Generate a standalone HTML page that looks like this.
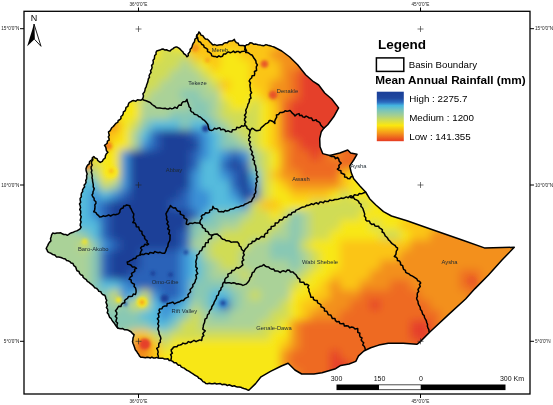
<!DOCTYPE html>
<html><head><meta charset="utf-8"><title>Mean Annual Rainfall</title>
<style>
html,body{margin:0;padding:0;background:#fff;}
body{width:553px;height:405px;overflow:hidden;font-family:"Liberation Sans",sans-serif;}
svg{display:block;}
text{font-family:"Liberation Sans",sans-serif;}
</style></head><body>
<svg width="553" height="405" viewBox="0 0 553 405">
<defs>
<clipPath id="cp"><polygon points="198.7,32.0 204.0,37.5 209.0,40.7 213.0,45.0 220.5,45.0 230.5,41.0 234.0,39.8 239.0,45.0 245.0,46.0 250.0,43.0 256.0,44.3 262.0,45.5 268.0,45.0 274.0,47.0 281.7,51.0 289.7,57.0 297.6,64.8 305.6,74.7 313.5,81.7 318.7,85.0 324.7,93.0 331.7,99.0 338.6,107.9 333.7,116.8 327.7,124.8 323.7,128.4 321.3,131.7 319.7,138.7 320.0,146.7 322.7,153.6 329.8,155.5 339.8,153.0 347.7,150.0 350.7,153.0 357.0,154.3 353.7,160.0 349.7,165.9 351.3,172.8 353.7,178.8 359.7,185.8 365.6,192.0 369.6,198.7 375.6,204.7 383.5,211.6 391.5,216.0 407.0,220.8 434.0,230.3 461.4,239.8 484.4,247.9 514.3,247.3 502.0,260.0 488.5,275.0 475.0,288.6 465.6,299.0 449.3,313.9 430.4,331.5 419.5,342.4 416.8,344.3 403.2,343.2 388.3,343.2 378.8,345.1 370.7,347.8 363.9,351.0 358.5,355.9 355.8,361.4 349.0,364.0 340.8,365.4 335.6,368.7 322.0,372.7 313.9,374.0 301.7,374.0 294.9,370.0 288.1,363.2 281.4,366.0 270.5,371.4 261.0,376.8 255.6,383.6 248.8,390.2 240.7,387.3 227.5,384.9 216.6,383.6 205.8,383.6 197.6,376.8 186.8,370.0 175.9,363.2 167.8,359.2 158.3,357.8 140.7,357.3 135.3,349.7 132.5,341.5 133.9,334.8 129.8,330.7 124.4,329.3 117.6,328.0 113.6,322.5 108.0,314.4 106.8,305.7 105.8,296.8 97.8,289.8 92.0,285.0 86.0,280.0 81.0,274.5 77.3,270.6 75.4,267.5 72.9,263.7 69.7,261.8 65.3,259.2 60.9,257.3 56.5,256.7 52.7,254.2 47.6,251.6 46.3,248.5 48.2,244.0 50.8,240.9 50.8,236.5 52.7,233.3 59.0,232.7 67.2,235.2 71.6,232.7 76.7,230.8 80.5,228.9 80.7,216.7 80.0,205.8 80.5,198.5 81.7,193.0 85.8,182.2 87.1,174.0 85.8,168.7 89.8,161.9 93.9,156.5 100.7,162.7 104.8,157.8 107.5,152.4 104.8,145.6 108.8,140.2 108.8,132.0 112.9,126.6 119.7,119.8 126.4,107.6 130.5,101.4 142.7,99.5 143.5,94.0 146.7,85.0 150.5,72.5 154.0,58.7 156.7,51.0 163.0,49.0 168.0,50.5 170.0,51.0 174.0,47.7 177.3,46.9 180.6,49.3 183.8,53.4 187.1,56.8"/></clipPath>
<filter id="bl" x="-10%" y="-10%" width="120%" height="120%"><feGaussianBlur stdDeviation="4"/></filter>
<filter id="bs" x="-50%" y="-50%" width="200%" height="200%"><feGaussianBlur stdDeviation="1.6"/></filter>
<linearGradient id="ramp" x1="0" y1="0" x2="0" y2="1">
<stop offset="0" stop-color="#1b3f98"/><stop offset="0.13" stop-color="#1f489f"/><stop offset="0.21" stop-color="#2b6bc0"/><stop offset="0.28" stop-color="#45b5e0"/><stop offset="0.38" stop-color="#7cc5b8"/><stop offset="0.48" stop-color="#a5cf90"/><stop offset="0.58" stop-color="#d2dc50"/><stop offset="0.68" stop-color="#fbe80f"/><stop offset="0.83" stop-color="#f59a1a"/><stop offset="1" stop-color="#e63a22"/>
</linearGradient>
</defs>
<rect width="553" height="405" fill="#fff"/>
<g clip-path="url(#cp)">
<rect x="30" y="20" width="500" height="380" fill="#f7e71c"/>
<g filter="url(#bl)">
<rect x="40" y="30" width="120.5" height="10.5" fill="#f8e716"/>
<rect x="160" y="30" width="10.5" height="10.5" fill="#d0dc55"/>
<rect x="170" y="30" width="10.5" height="10.5" fill="#f8e716"/>
<rect x="180" y="30" width="100.5" height="10.5" fill="#fbc518"/>
<rect x="280" y="30" width="30.5" height="10.5" fill="#f3901e"/>
<rect x="310" y="30" width="40.5" height="10.5" fill="#ee6b22"/>
<rect x="350" y="30" width="170.5" height="10.5" fill="#e5402a"/>
<rect x="40" y="40" width="10.5" height="10.5" fill="#f8e716"/>
<rect x="50" y="40" width="20.5" height="10.5" fill="#d0dc55"/>
<rect x="70" y="40" width="90.5" height="10.5" fill="#f8e716"/>
<rect x="160" y="40" width="10.5" height="10.5" fill="#d0dc55"/>
<rect x="170" y="40" width="20.5" height="10.5" fill="#f8e716"/>
<rect x="190" y="40" width="90.5" height="10.5" fill="#fbc518"/>
<rect x="280" y="40" width="20.5" height="10.5" fill="#f3901e"/>
<rect x="300" y="40" width="40.5" height="10.5" fill="#ee6b22"/>
<rect x="340" y="40" width="180.5" height="10.5" fill="#e5402a"/>
<rect x="40" y="50" width="10.5" height="10.5" fill="#f3901e"/>
<rect x="50" y="50" width="20.5" height="10.5" fill="#f8e716"/>
<rect x="70" y="50" width="30.5" height="10.5" fill="#d0dc55"/>
<rect x="100" y="50" width="60.5" height="10.5" fill="#f8e716"/>
<rect x="160" y="50" width="30.5" height="10.5" fill="#d0dc55"/>
<rect x="190" y="50" width="30.5" height="10.5" fill="#fbc518"/>
<rect x="220" y="50" width="20.5" height="10.5" fill="#f8e716"/>
<rect x="240" y="50" width="30.5" height="10.5" fill="#fbc518"/>
<rect x="270" y="50" width="30.5" height="10.5" fill="#f3901e"/>
<rect x="300" y="50" width="30.5" height="10.5" fill="#ee6b22"/>
<rect x="330" y="50" width="190.5" height="10.5" fill="#e5402a"/>
<rect x="40" y="60" width="20.5" height="10.5" fill="#f3901e"/>
<rect x="60" y="60" width="20.5" height="10.5" fill="#f8e716"/>
<rect x="80" y="60" width="100.5" height="10.5" fill="#d0dc55"/>
<rect x="180" y="60" width="10.5" height="10.5" fill="#aad298"/>
<rect x="190" y="60" width="10.5" height="10.5" fill="#d0dc55"/>
<rect x="200" y="60" width="10.5" height="10.5" fill="#f8e716"/>
<rect x="210" y="60" width="10.5" height="10.5" fill="#fbc518"/>
<rect x="220" y="60" width="30.5" height="10.5" fill="#f8e716"/>
<rect x="250" y="60" width="30.5" height="10.5" fill="#fbc518"/>
<rect x="280" y="60" width="20.5" height="10.5" fill="#f3901e"/>
<rect x="300" y="60" width="20.5" height="10.5" fill="#ee6b22"/>
<rect x="320" y="60" width="190.5" height="10.5" fill="#e5402a"/>
<rect x="510" y="60" width="10.5" height="10.5" fill="#f3901e"/>
<rect x="40" y="70" width="30.5" height="10.5" fill="#f3901e"/>
<rect x="70" y="70" width="30.5" height="10.5" fill="#f8e716"/>
<rect x="100" y="70" width="70.5" height="10.5" fill="#d0dc55"/>
<rect x="170" y="70" width="30.5" height="10.5" fill="#aad298"/>
<rect x="200" y="70" width="10.5" height="10.5" fill="#d0dc55"/>
<rect x="210" y="70" width="40.5" height="10.5" fill="#f8e716"/>
<rect x="250" y="70" width="30.5" height="10.5" fill="#fbc518"/>
<rect x="280" y="70" width="10.5" height="10.5" fill="#f3901e"/>
<rect x="290" y="70" width="10.5" height="10.5" fill="#ee6b22"/>
<rect x="300" y="70" width="200.5" height="10.5" fill="#e5402a"/>
<rect x="500" y="70" width="20.5" height="10.5" fill="#f3901e"/>
<rect x="40" y="80" width="40.5" height="10.5" fill="#f3901e"/>
<rect x="80" y="80" width="40.5" height="10.5" fill="#f8e716"/>
<rect x="120" y="80" width="40.5" height="10.5" fill="#d0dc55"/>
<rect x="160" y="80" width="50.5" height="10.5" fill="#aad298"/>
<rect x="210" y="80" width="10.5" height="10.5" fill="#d0dc55"/>
<rect x="220" y="80" width="10.5" height="10.5" fill="#fbc518"/>
<rect x="230" y="80" width="20.5" height="10.5" fill="#f8e716"/>
<rect x="250" y="80" width="20.5" height="10.5" fill="#fbc518"/>
<rect x="270" y="80" width="20.5" height="10.5" fill="#f3901e"/>
<rect x="290" y="80" width="10.5" height="10.5" fill="#ee6b22"/>
<rect x="300" y="80" width="170.5" height="10.5" fill="#e5402a"/>
<rect x="470" y="80" width="20.5" height="10.5" fill="#ee6b22"/>
<rect x="490" y="80" width="30.5" height="10.5" fill="#f3901e"/>
<rect x="40" y="90" width="50.5" height="10.5" fill="#f3901e"/>
<rect x="90" y="90" width="40.5" height="10.5" fill="#f8e716"/>
<rect x="130" y="90" width="20.5" height="10.5" fill="#d0dc55"/>
<rect x="150" y="90" width="30.5" height="10.5" fill="#aad298"/>
<rect x="180" y="90" width="20.5" height="10.5" fill="#88c8b4"/>
<rect x="200" y="90" width="20.5" height="10.5" fill="#aad298"/>
<rect x="220" y="90" width="40.5" height="10.5" fill="#f8e716"/>
<rect x="260" y="90" width="10.5" height="10.5" fill="#fbc518"/>
<rect x="270" y="90" width="20.5" height="10.5" fill="#f3901e"/>
<rect x="290" y="90" width="10.5" height="10.5" fill="#ee6b22"/>
<rect x="300" y="90" width="140.5" height="10.5" fill="#e5402a"/>
<rect x="440" y="90" width="50.5" height="10.5" fill="#ee6b22"/>
<rect x="490" y="90" width="30.5" height="10.5" fill="#f3901e"/>
<rect x="40" y="100" width="10.5" height="10.5" fill="#f8e716"/>
<rect x="50" y="100" width="50.5" height="10.5" fill="#f3901e"/>
<rect x="100" y="100" width="40.5" height="10.5" fill="#f8e716"/>
<rect x="140" y="100" width="50.5" height="10.5" fill="#aad298"/>
<rect x="190" y="100" width="20.5" height="10.5" fill="#88c8b4"/>
<rect x="210" y="100" width="10.5" height="10.5" fill="#aad298"/>
<rect x="220" y="100" width="10.5" height="10.5" fill="#d0dc55"/>
<rect x="230" y="100" width="20.5" height="10.5" fill="#f8e716"/>
<rect x="250" y="100" width="10.5" height="10.5" fill="#d0dc55"/>
<rect x="260" y="100" width="10.5" height="10.5" fill="#f8e716"/>
<rect x="270" y="100" width="10.5" height="10.5" fill="#fbc518"/>
<rect x="280" y="100" width="10.5" height="10.5" fill="#ee6b22"/>
<rect x="290" y="100" width="120.5" height="10.5" fill="#e5402a"/>
<rect x="410" y="100" width="70.5" height="10.5" fill="#ee6b22"/>
<rect x="480" y="100" width="40.5" height="10.5" fill="#f3901e"/>
<rect x="40" y="110" width="20.5" height="10.5" fill="#f8e716"/>
<rect x="60" y="110" width="50.5" height="10.5" fill="#f3901e"/>
<rect x="110" y="110" width="30.5" height="10.5" fill="#f8e716"/>
<rect x="140" y="110" width="30.5" height="10.5" fill="#aad298"/>
<rect x="170" y="110" width="40.5" height="10.5" fill="#88c8b4"/>
<rect x="210" y="110" width="10.5" height="10.5" fill="#aad298"/>
<rect x="220" y="110" width="40.5" height="10.5" fill="#d0dc55"/>
<rect x="260" y="110" width="10.5" height="10.5" fill="#f8e716"/>
<rect x="270" y="110" width="10.5" height="10.5" fill="#fbc518"/>
<rect x="280" y="110" width="10.5" height="10.5" fill="#ee6b22"/>
<rect x="290" y="110" width="100.5" height="10.5" fill="#e5402a"/>
<rect x="390" y="110" width="80.5" height="10.5" fill="#ee6b22"/>
<rect x="470" y="110" width="10.5" height="10.5" fill="#fbc518"/>
<rect x="480" y="110" width="40.5" height="10.5" fill="#f3901e"/>
<rect x="40" y="120" width="10.5" height="10.5" fill="#f3901e"/>
<rect x="50" y="120" width="20.5" height="10.5" fill="#f8e716"/>
<rect x="70" y="120" width="50.5" height="10.5" fill="#f3901e"/>
<rect x="120" y="120" width="10.5" height="10.5" fill="#f8e716"/>
<rect x="130" y="120" width="10.5" height="10.5" fill="#d0dc55"/>
<rect x="140" y="120" width="10.5" height="10.5" fill="#88c8b4"/>
<rect x="150" y="120" width="30.5" height="10.5" fill="#55bbdd"/>
<rect x="180" y="120" width="10.5" height="10.5" fill="#88c8b4"/>
<rect x="190" y="120" width="20.5" height="10.5" fill="#55bbdd"/>
<rect x="210" y="120" width="10.5" height="10.5" fill="#88c8b4"/>
<rect x="220" y="120" width="10.5" height="10.5" fill="#aad298"/>
<rect x="230" y="120" width="30.5" height="10.5" fill="#d0dc55"/>
<rect x="260" y="120" width="10.5" height="10.5" fill="#f8e716"/>
<rect x="270" y="120" width="10.5" height="10.5" fill="#fbc518"/>
<rect x="280" y="120" width="10.5" height="10.5" fill="#ee6b22"/>
<rect x="290" y="120" width="80.5" height="10.5" fill="#e5402a"/>
<rect x="370" y="120" width="90.5" height="10.5" fill="#ee6b22"/>
<rect x="460" y="120" width="20.5" height="10.5" fill="#fbc518"/>
<rect x="480" y="120" width="40.5" height="10.5" fill="#f3901e"/>
<rect x="40" y="130" width="20.5" height="10.5" fill="#f3901e"/>
<rect x="60" y="130" width="20.5" height="10.5" fill="#f8e716"/>
<rect x="80" y="130" width="20.5" height="10.5" fill="#f3901e"/>
<rect x="100" y="130" width="20.5" height="10.5" fill="#fbc518"/>
<rect x="120" y="130" width="10.5" height="10.5" fill="#f8e716"/>
<rect x="130" y="130" width="10.5" height="10.5" fill="#aad298"/>
<rect x="140" y="130" width="10.5" height="10.5" fill="#55bbdd"/>
<rect x="150" y="130" width="10.5" height="10.5" fill="#2a62b8"/>
<rect x="160" y="130" width="30.5" height="10.5" fill="#1b3f98"/>
<rect x="190" y="130" width="10.5" height="10.5" fill="#2a62b8"/>
<rect x="200" y="130" width="10.5" height="10.5" fill="#3a90d6"/>
<rect x="210" y="130" width="10.5" height="10.5" fill="#55bbdd"/>
<rect x="220" y="130" width="10.5" height="10.5" fill="#88c8b4"/>
<rect x="230" y="130" width="10.5" height="10.5" fill="#aad298"/>
<rect x="240" y="130" width="20.5" height="10.5" fill="#d0dc55"/>
<rect x="260" y="130" width="10.5" height="10.5" fill="#f8e716"/>
<rect x="270" y="130" width="10.5" height="10.5" fill="#fbc518"/>
<rect x="280" y="130" width="10.5" height="10.5" fill="#ee6b22"/>
<rect x="290" y="130" width="60.5" height="10.5" fill="#e5402a"/>
<rect x="350" y="130" width="100.5" height="10.5" fill="#ee6b22"/>
<rect x="450" y="130" width="20.5" height="10.5" fill="#fbc518"/>
<rect x="470" y="130" width="50.5" height="10.5" fill="#f3901e"/>
<rect x="40" y="140" width="30.5" height="10.5" fill="#f3901e"/>
<rect x="70" y="140" width="20.5" height="10.5" fill="#f8e716"/>
<rect x="90" y="140" width="20.5" height="10.5" fill="#f3901e"/>
<rect x="110" y="140" width="20.5" height="10.5" fill="#f8e716"/>
<rect x="130" y="140" width="10.5" height="10.5" fill="#aad298"/>
<rect x="140" y="140" width="10.5" height="10.5" fill="#3a90d6"/>
<rect x="150" y="140" width="10.5" height="10.5" fill="#2a62b8"/>
<rect x="160" y="140" width="40.5" height="10.5" fill="#1b3f98"/>
<rect x="200" y="140" width="10.5" height="10.5" fill="#3a90d6"/>
<rect x="210" y="140" width="10.5" height="10.5" fill="#55bbdd"/>
<rect x="220" y="140" width="20.5" height="10.5" fill="#88c8b4"/>
<rect x="240" y="140" width="10.5" height="10.5" fill="#aad298"/>
<rect x="250" y="140" width="10.5" height="10.5" fill="#d0dc55"/>
<rect x="260" y="140" width="10.5" height="10.5" fill="#f8e716"/>
<rect x="270" y="140" width="10.5" height="10.5" fill="#fbc518"/>
<rect x="280" y="140" width="10.5" height="10.5" fill="#f3901e"/>
<rect x="290" y="140" width="10.5" height="10.5" fill="#ee6b22"/>
<rect x="300" y="140" width="30.5" height="10.5" fill="#e5402a"/>
<rect x="330" y="140" width="10.5" height="10.5" fill="#f3901e"/>
<rect x="340" y="140" width="90.5" height="10.5" fill="#ee6b22"/>
<rect x="430" y="140" width="10.5" height="10.5" fill="#f8e716"/>
<rect x="440" y="140" width="30.5" height="10.5" fill="#fbc518"/>
<rect x="470" y="140" width="50.5" height="10.5" fill="#f3901e"/>
<rect x="40" y="150" width="40.5" height="10.5" fill="#f3901e"/>
<rect x="80" y="150" width="40.5" height="10.5" fill="#f8e716"/>
<rect x="120" y="150" width="10.5" height="10.5" fill="#3a90d6"/>
<rect x="130" y="150" width="60.5" height="10.5" fill="#1b3f98"/>
<rect x="190" y="150" width="10.5" height="10.5" fill="#2a62b8"/>
<rect x="200" y="150" width="10.5" height="10.5" fill="#3a90d6"/>
<rect x="210" y="150" width="10.5" height="10.5" fill="#55bbdd"/>
<rect x="220" y="150" width="10.5" height="10.5" fill="#3a90d6"/>
<rect x="230" y="150" width="10.5" height="10.5" fill="#2a62b8"/>
<rect x="240" y="150" width="10.5" height="10.5" fill="#3a90d6"/>
<rect x="250" y="150" width="10.5" height="10.5" fill="#aad298"/>
<rect x="260" y="150" width="10.5" height="10.5" fill="#d0dc55"/>
<rect x="270" y="150" width="10.5" height="10.5" fill="#f8e716"/>
<rect x="280" y="150" width="10.5" height="10.5" fill="#f3901e"/>
<rect x="290" y="150" width="20.5" height="10.5" fill="#ee6b22"/>
<rect x="310" y="150" width="10.5" height="10.5" fill="#e5402a"/>
<rect x="320" y="150" width="10.5" height="10.5" fill="#ee6b22"/>
<rect x="330" y="150" width="10.5" height="10.5" fill="#f3901e"/>
<rect x="340" y="150" width="70.5" height="10.5" fill="#ee6b22"/>
<rect x="410" y="150" width="30.5" height="10.5" fill="#f8e716"/>
<rect x="440" y="150" width="30.5" height="10.5" fill="#fbc518"/>
<rect x="470" y="150" width="50.5" height="10.5" fill="#f3901e"/>
<rect x="40" y="160" width="50.5" height="10.5" fill="#f3901e"/>
<rect x="90" y="160" width="10.5" height="10.5" fill="#d0dc55"/>
<rect x="100" y="160" width="20.5" height="10.5" fill="#f8e716"/>
<rect x="120" y="160" width="10.5" height="10.5" fill="#3a90d6"/>
<rect x="130" y="160" width="60.5" height="10.5" fill="#1b3f98"/>
<rect x="190" y="160" width="10.5" height="10.5" fill="#2a62b8"/>
<rect x="200" y="160" width="20.5" height="10.5" fill="#55bbdd"/>
<rect x="220" y="160" width="10.5" height="10.5" fill="#2a62b8"/>
<rect x="230" y="160" width="10.5" height="10.5" fill="#1b3f98"/>
<rect x="240" y="160" width="10.5" height="10.5" fill="#2a62b8"/>
<rect x="250" y="160" width="10.5" height="10.5" fill="#aad298"/>
<rect x="260" y="160" width="10.5" height="10.5" fill="#d0dc55"/>
<rect x="270" y="160" width="10.5" height="10.5" fill="#f8e716"/>
<rect x="280" y="160" width="10.5" height="10.5" fill="#f3901e"/>
<rect x="290" y="160" width="90.5" height="10.5" fill="#ee6b22"/>
<rect x="380" y="160" width="50.5" height="10.5" fill="#f8e716"/>
<rect x="430" y="160" width="30.5" height="10.5" fill="#fbc518"/>
<rect x="460" y="160" width="60.5" height="10.5" fill="#f3901e"/>
<rect x="40" y="170" width="50.5" height="10.5" fill="#88c8b4"/>
<rect x="90" y="170" width="10.5" height="10.5" fill="#aad298"/>
<rect x="100" y="170" width="20.5" height="10.5" fill="#f8e716"/>
<rect x="120" y="170" width="10.5" height="10.5" fill="#3a90d6"/>
<rect x="130" y="170" width="60.5" height="10.5" fill="#1b3f98"/>
<rect x="190" y="170" width="10.5" height="10.5" fill="#3a90d6"/>
<rect x="200" y="170" width="20.5" height="10.5" fill="#55bbdd"/>
<rect x="220" y="170" width="10.5" height="10.5" fill="#3a90d6"/>
<rect x="230" y="170" width="10.5" height="10.5" fill="#2a62b8"/>
<rect x="240" y="170" width="10.5" height="10.5" fill="#1b3f98"/>
<rect x="250" y="170" width="10.5" height="10.5" fill="#55bbdd"/>
<rect x="260" y="170" width="10.5" height="10.5" fill="#d0dc55"/>
<rect x="270" y="170" width="10.5" height="10.5" fill="#fbc518"/>
<rect x="280" y="170" width="20.5" height="10.5" fill="#f3901e"/>
<rect x="300" y="170" width="40.5" height="10.5" fill="#ee6b22"/>
<rect x="340" y="170" width="10.5" height="10.5" fill="#fbc518"/>
<rect x="350" y="170" width="80.5" height="10.5" fill="#f8e716"/>
<rect x="430" y="170" width="30.5" height="10.5" fill="#fbc518"/>
<rect x="460" y="170" width="60.5" height="10.5" fill="#f3901e"/>
<rect x="40" y="180" width="60.5" height="10.5" fill="#55bbdd"/>
<rect x="100" y="180" width="10.5" height="10.5" fill="#d0dc55"/>
<rect x="110" y="180" width="10.5" height="10.5" fill="#aad298"/>
<rect x="120" y="180" width="10.5" height="10.5" fill="#3a90d6"/>
<rect x="130" y="180" width="60.5" height="10.5" fill="#1b3f98"/>
<rect x="190" y="180" width="10.5" height="10.5" fill="#3a90d6"/>
<rect x="200" y="180" width="30.5" height="10.5" fill="#55bbdd"/>
<rect x="230" y="180" width="10.5" height="10.5" fill="#2a62b8"/>
<rect x="240" y="180" width="10.5" height="10.5" fill="#1b3f98"/>
<rect x="250" y="180" width="10.5" height="10.5" fill="#3a90d6"/>
<rect x="260" y="180" width="10.5" height="10.5" fill="#d0dc55"/>
<rect x="270" y="180" width="10.5" height="10.5" fill="#f8e716"/>
<rect x="280" y="180" width="10.5" height="10.5" fill="#fbc518"/>
<rect x="290" y="180" width="50.5" height="10.5" fill="#f3901e"/>
<rect x="340" y="180" width="10.5" height="10.5" fill="#fbc518"/>
<rect x="350" y="180" width="70.5" height="10.5" fill="#f8e716"/>
<rect x="420" y="180" width="40.5" height="10.5" fill="#fbc518"/>
<rect x="460" y="180" width="60.5" height="10.5" fill="#f3901e"/>
<rect x="40" y="190" width="50.5" height="10.5" fill="#55bbdd"/>
<rect x="90" y="190" width="10.5" height="10.5" fill="#3a90d6"/>
<rect x="100" y="190" width="10.5" height="10.5" fill="#55bbdd"/>
<rect x="110" y="190" width="10.5" height="10.5" fill="#3a90d6"/>
<rect x="120" y="190" width="10.5" height="10.5" fill="#2a62b8"/>
<rect x="130" y="190" width="50.5" height="10.5" fill="#1b3f98"/>
<rect x="180" y="190" width="10.5" height="10.5" fill="#2a62b8"/>
<rect x="190" y="190" width="20.5" height="10.5" fill="#3a90d6"/>
<rect x="210" y="190" width="20.5" height="10.5" fill="#55bbdd"/>
<rect x="230" y="190" width="10.5" height="10.5" fill="#3a90d6"/>
<rect x="240" y="190" width="10.5" height="10.5" fill="#1b3f98"/>
<rect x="250" y="190" width="10.5" height="10.5" fill="#2a62b8"/>
<rect x="260" y="190" width="10.5" height="10.5" fill="#d0dc55"/>
<rect x="270" y="190" width="20.5" height="10.5" fill="#f8e716"/>
<rect x="290" y="190" width="40.5" height="10.5" fill="#fbc518"/>
<rect x="330" y="190" width="10.5" height="10.5" fill="#f8e716"/>
<rect x="340" y="190" width="10.5" height="10.5" fill="#d0dc55"/>
<rect x="350" y="190" width="70.5" height="10.5" fill="#f8e716"/>
<rect x="420" y="190" width="30.5" height="10.5" fill="#fbc518"/>
<rect x="450" y="190" width="70.5" height="10.5" fill="#f3901e"/>
<rect x="40" y="200" width="10.5" height="10.5" fill="#aad298"/>
<rect x="50" y="200" width="40.5" height="10.5" fill="#55bbdd"/>
<rect x="90" y="200" width="10.5" height="10.5" fill="#3a90d6"/>
<rect x="100" y="200" width="10.5" height="10.5" fill="#2a62b8"/>
<rect x="110" y="200" width="60.5" height="10.5" fill="#1b3f98"/>
<rect x="170" y="200" width="20.5" height="10.5" fill="#2a62b8"/>
<rect x="190" y="200" width="20.5" height="10.5" fill="#3a90d6"/>
<rect x="210" y="200" width="30.5" height="10.5" fill="#55bbdd"/>
<rect x="240" y="200" width="10.5" height="10.5" fill="#3a90d6"/>
<rect x="250" y="200" width="10.5" height="10.5" fill="#d0dc55"/>
<rect x="260" y="200" width="20.5" height="10.5" fill="#fbc518"/>
<rect x="280" y="200" width="30.5" height="10.5" fill="#f8e716"/>
<rect x="310" y="200" width="60.5" height="10.5" fill="#d0dc55"/>
<rect x="370" y="200" width="40.5" height="10.5" fill="#f8e716"/>
<rect x="410" y="200" width="40.5" height="10.5" fill="#fbc518"/>
<rect x="450" y="200" width="70.5" height="10.5" fill="#f3901e"/>
<rect x="40" y="210" width="20.5" height="10.5" fill="#aad298"/>
<rect x="60" y="210" width="30.5" height="10.5" fill="#55bbdd"/>
<rect x="90" y="210" width="10.5" height="10.5" fill="#3a90d6"/>
<rect x="100" y="210" width="10.5" height="10.5" fill="#2a62b8"/>
<rect x="110" y="210" width="80.5" height="10.5" fill="#1b3f98"/>
<rect x="190" y="210" width="10.5" height="10.5" fill="#2a62b8"/>
<rect x="200" y="210" width="10.5" height="10.5" fill="#55bbdd"/>
<rect x="210" y="210" width="30.5" height="10.5" fill="#88c8b4"/>
<rect x="240" y="210" width="10.5" height="10.5" fill="#aad298"/>
<rect x="250" y="210" width="20.5" height="10.5" fill="#d0dc55"/>
<rect x="270" y="210" width="10.5" height="10.5" fill="#f8e716"/>
<rect x="280" y="210" width="10.5" height="10.5" fill="#d0dc55"/>
<rect x="290" y="210" width="10.5" height="10.5" fill="#88c8b4"/>
<rect x="300" y="210" width="10.5" height="10.5" fill="#aad298"/>
<rect x="310" y="210" width="50.5" height="10.5" fill="#d0dc55"/>
<rect x="360" y="210" width="50.5" height="10.5" fill="#f8e716"/>
<rect x="410" y="210" width="30.5" height="10.5" fill="#fbc518"/>
<rect x="440" y="210" width="80.5" height="10.5" fill="#f3901e"/>
<rect x="40" y="220" width="30.5" height="10.5" fill="#aad298"/>
<rect x="70" y="220" width="30.5" height="10.5" fill="#55bbdd"/>
<rect x="100" y="220" width="10.5" height="10.5" fill="#2a62b8"/>
<rect x="110" y="220" width="80.5" height="10.5" fill="#1b3f98"/>
<rect x="190" y="220" width="30.5" height="10.5" fill="#88c8b4"/>
<rect x="220" y="220" width="20.5" height="10.5" fill="#aad298"/>
<rect x="240" y="220" width="40.5" height="10.5" fill="#d0dc55"/>
<rect x="280" y="220" width="10.5" height="10.5" fill="#aad298"/>
<rect x="290" y="220" width="10.5" height="10.5" fill="#88c8b4"/>
<rect x="300" y="220" width="10.5" height="10.5" fill="#aad298"/>
<rect x="310" y="220" width="30.5" height="10.5" fill="#d0dc55"/>
<rect x="340" y="220" width="30.5" height="10.5" fill="#f8e716"/>
<rect x="370" y="220" width="10.5" height="10.5" fill="#d0dc55"/>
<rect x="380" y="220" width="20.5" height="10.5" fill="#f8e716"/>
<rect x="400" y="220" width="40.5" height="10.5" fill="#fbc518"/>
<rect x="440" y="220" width="80.5" height="10.5" fill="#f3901e"/>
<rect x="40" y="230" width="40.5" height="10.5" fill="#aad298"/>
<rect x="80" y="230" width="10.5" height="10.5" fill="#88c8b4"/>
<rect x="90" y="230" width="10.5" height="10.5" fill="#55bbdd"/>
<rect x="100" y="230" width="10.5" height="10.5" fill="#2a62b8"/>
<rect x="110" y="230" width="70.5" height="10.5" fill="#1b3f98"/>
<rect x="180" y="230" width="10.5" height="10.5" fill="#2a62b8"/>
<rect x="190" y="230" width="10.5" height="10.5" fill="#88c8b4"/>
<rect x="200" y="230" width="20.5" height="10.5" fill="#aad298"/>
<rect x="220" y="230" width="50.5" height="10.5" fill="#d0dc55"/>
<rect x="270" y="230" width="20.5" height="10.5" fill="#aad298"/>
<rect x="290" y="230" width="10.5" height="10.5" fill="#88c8b4"/>
<rect x="300" y="230" width="10.5" height="10.5" fill="#aad298"/>
<rect x="310" y="230" width="20.5" height="10.5" fill="#d0dc55"/>
<rect x="330" y="230" width="50.5" height="10.5" fill="#f8e716"/>
<rect x="380" y="230" width="20.5" height="10.5" fill="#d0dc55"/>
<rect x="400" y="230" width="10.5" height="10.5" fill="#f8e716"/>
<rect x="410" y="230" width="20.5" height="10.5" fill="#fbc518"/>
<rect x="430" y="230" width="90.5" height="10.5" fill="#f3901e"/>
<rect x="40" y="240" width="40.5" height="10.5" fill="#aad298"/>
<rect x="80" y="240" width="10.5" height="10.5" fill="#d0dc55"/>
<rect x="90" y="240" width="10.5" height="10.5" fill="#88c8b4"/>
<rect x="100" y="240" width="10.5" height="10.5" fill="#3a90d6"/>
<rect x="110" y="240" width="10.5" height="10.5" fill="#2a62b8"/>
<rect x="120" y="240" width="60.5" height="10.5" fill="#1b3f98"/>
<rect x="180" y="240" width="10.5" height="10.5" fill="#2a62b8"/>
<rect x="190" y="240" width="20.5" height="10.5" fill="#aad298"/>
<rect x="210" y="240" width="40.5" height="10.5" fill="#d0dc55"/>
<rect x="250" y="240" width="20.5" height="10.5" fill="#aad298"/>
<rect x="270" y="240" width="30.5" height="10.5" fill="#88c8b4"/>
<rect x="300" y="240" width="10.5" height="10.5" fill="#d0dc55"/>
<rect x="310" y="240" width="30.5" height="10.5" fill="#f8e716"/>
<rect x="340" y="240" width="70.5" height="10.5" fill="#fbc518"/>
<rect x="410" y="240" width="110.5" height="10.5" fill="#f3901e"/>
<rect x="40" y="250" width="50.5" height="10.5" fill="#aad298"/>
<rect x="90" y="250" width="10.5" height="10.5" fill="#88c8b4"/>
<rect x="100" y="250" width="10.5" height="10.5" fill="#2a62b8"/>
<rect x="110" y="250" width="30.5" height="10.5" fill="#1b3f98"/>
<rect x="140" y="250" width="40.5" height="10.5" fill="#2a62b8"/>
<rect x="180" y="250" width="10.5" height="10.5" fill="#3a90d6"/>
<rect x="190" y="250" width="10.5" height="10.5" fill="#55bbdd"/>
<rect x="200" y="250" width="10.5" height="10.5" fill="#aad298"/>
<rect x="210" y="250" width="30.5" height="10.5" fill="#d0dc55"/>
<rect x="240" y="250" width="30.5" height="10.5" fill="#aad298"/>
<rect x="270" y="250" width="30.5" height="10.5" fill="#88c8b4"/>
<rect x="300" y="250" width="10.5" height="10.5" fill="#aad298"/>
<rect x="310" y="250" width="10.5" height="10.5" fill="#d0dc55"/>
<rect x="320" y="250" width="20.5" height="10.5" fill="#f8e716"/>
<rect x="340" y="250" width="60.5" height="10.5" fill="#fbc518"/>
<rect x="400" y="250" width="120.5" height="10.5" fill="#f3901e"/>
<rect x="40" y="260" width="50.5" height="10.5" fill="#aad298"/>
<rect x="90" y="260" width="10.5" height="10.5" fill="#88c8b4"/>
<rect x="100" y="260" width="10.5" height="10.5" fill="#2a62b8"/>
<rect x="110" y="260" width="30.5" height="10.5" fill="#1b3f98"/>
<rect x="140" y="260" width="40.5" height="10.5" fill="#2a62b8"/>
<rect x="180" y="260" width="10.5" height="10.5" fill="#3a90d6"/>
<rect x="190" y="260" width="10.5" height="10.5" fill="#55bbdd"/>
<rect x="200" y="260" width="10.5" height="10.5" fill="#88c8b4"/>
<rect x="210" y="260" width="10.5" height="10.5" fill="#aad298"/>
<rect x="220" y="260" width="20.5" height="10.5" fill="#d0dc55"/>
<rect x="240" y="260" width="50.5" height="10.5" fill="#aad298"/>
<rect x="290" y="260" width="10.5" height="10.5" fill="#88c8b4"/>
<rect x="300" y="260" width="10.5" height="10.5" fill="#aad298"/>
<rect x="310" y="260" width="10.5" height="10.5" fill="#d0dc55"/>
<rect x="320" y="260" width="20.5" height="10.5" fill="#f8e716"/>
<rect x="340" y="260" width="40.5" height="10.5" fill="#fbc518"/>
<rect x="380" y="260" width="140.5" height="10.5" fill="#f3901e"/>
<rect x="40" y="270" width="50.5" height="10.5" fill="#aad298"/>
<rect x="90" y="270" width="10.5" height="10.5" fill="#88c8b4"/>
<rect x="100" y="270" width="10.5" height="10.5" fill="#2a62b8"/>
<rect x="110" y="270" width="20.5" height="10.5" fill="#1b3f98"/>
<rect x="130" y="270" width="50.5" height="10.5" fill="#2a62b8"/>
<rect x="180" y="270" width="10.5" height="10.5" fill="#3a90d6"/>
<rect x="190" y="270" width="10.5" height="10.5" fill="#55bbdd"/>
<rect x="200" y="270" width="10.5" height="10.5" fill="#88c8b4"/>
<rect x="210" y="270" width="30.5" height="10.5" fill="#aad298"/>
<rect x="240" y="270" width="10.5" height="10.5" fill="#d0dc55"/>
<rect x="250" y="270" width="50.5" height="10.5" fill="#aad298"/>
<rect x="300" y="270" width="10.5" height="10.5" fill="#d0dc55"/>
<rect x="310" y="270" width="20.5" height="10.5" fill="#f8e716"/>
<rect x="330" y="270" width="40.5" height="10.5" fill="#fbc518"/>
<rect x="370" y="270" width="90.5" height="10.5" fill="#f3901e"/>
<rect x="460" y="270" width="20.5" height="10.5" fill="#ee6b22"/>
<rect x="480" y="270" width="40.5" height="10.5" fill="#f3901e"/>
<rect x="40" y="280" width="50.5" height="10.5" fill="#aad298"/>
<rect x="90" y="280" width="10.5" height="10.5" fill="#88c8b4"/>
<rect x="100" y="280" width="20.5" height="10.5" fill="#55bbdd"/>
<rect x="120" y="280" width="10.5" height="10.5" fill="#3a90d6"/>
<rect x="130" y="280" width="50.5" height="10.5" fill="#2a62b8"/>
<rect x="180" y="280" width="10.5" height="10.5" fill="#3a90d6"/>
<rect x="190" y="280" width="40.5" height="10.5" fill="#88c8b4"/>
<rect x="230" y="280" width="60.5" height="10.5" fill="#aad298"/>
<rect x="290" y="280" width="10.5" height="10.5" fill="#d0dc55"/>
<rect x="300" y="280" width="20.5" height="10.5" fill="#f8e716"/>
<rect x="320" y="280" width="10.5" height="10.5" fill="#fbc518"/>
<rect x="330" y="280" width="10.5" height="10.5" fill="#f3901e"/>
<rect x="340" y="280" width="20.5" height="10.5" fill="#fbc518"/>
<rect x="360" y="280" width="30.5" height="10.5" fill="#f3901e"/>
<rect x="390" y="280" width="20.5" height="10.5" fill="#ee6b22"/>
<rect x="410" y="280" width="50.5" height="10.5" fill="#f3901e"/>
<rect x="460" y="280" width="20.5" height="10.5" fill="#ee6b22"/>
<rect x="480" y="280" width="40.5" height="10.5" fill="#f3901e"/>
<rect x="40" y="290" width="40.5" height="10.5" fill="#aad298"/>
<rect x="80" y="290" width="30.5" height="10.5" fill="#88c8b4"/>
<rect x="110" y="290" width="10.5" height="10.5" fill="#d0dc55"/>
<rect x="120" y="290" width="10.5" height="10.5" fill="#3a90d6"/>
<rect x="130" y="290" width="10.5" height="10.5" fill="#55bbdd"/>
<rect x="140" y="290" width="10.5" height="10.5" fill="#d0dc55"/>
<rect x="150" y="290" width="10.5" height="10.5" fill="#3a90d6"/>
<rect x="160" y="290" width="20.5" height="10.5" fill="#2a62b8"/>
<rect x="180" y="290" width="10.5" height="10.5" fill="#3a90d6"/>
<rect x="190" y="290" width="20.5" height="10.5" fill="#88c8b4"/>
<rect x="210" y="290" width="20.5" height="10.5" fill="#55bbdd"/>
<rect x="230" y="290" width="10.5" height="10.5" fill="#88c8b4"/>
<rect x="240" y="290" width="10.5" height="10.5" fill="#aad298"/>
<rect x="250" y="290" width="10.5" height="10.5" fill="#d0dc55"/>
<rect x="260" y="290" width="30.5" height="10.5" fill="#aad298"/>
<rect x="290" y="290" width="20.5" height="10.5" fill="#f8e716"/>
<rect x="310" y="290" width="20.5" height="10.5" fill="#fbc518"/>
<rect x="330" y="290" width="30.5" height="10.5" fill="#f3901e"/>
<rect x="360" y="290" width="60.5" height="10.5" fill="#ee6b22"/>
<rect x="420" y="290" width="50.5" height="10.5" fill="#f3901e"/>
<rect x="470" y="290" width="20.5" height="10.5" fill="#ee6b22"/>
<rect x="490" y="290" width="30.5" height="10.5" fill="#f3901e"/>
<rect x="40" y="300" width="30.5" height="10.5" fill="#aad298"/>
<rect x="70" y="300" width="40.5" height="10.5" fill="#88c8b4"/>
<rect x="110" y="300" width="10.5" height="10.5" fill="#aad298"/>
<rect x="120" y="300" width="10.5" height="10.5" fill="#88c8b4"/>
<rect x="130" y="300" width="20.5" height="10.5" fill="#d0dc55"/>
<rect x="150" y="300" width="10.5" height="10.5" fill="#55bbdd"/>
<rect x="160" y="300" width="20.5" height="10.5" fill="#3a90d6"/>
<rect x="180" y="300" width="10.5" height="10.5" fill="#55bbdd"/>
<rect x="190" y="300" width="10.5" height="10.5" fill="#aad298"/>
<rect x="200" y="300" width="10.5" height="10.5" fill="#88c8b4"/>
<rect x="210" y="300" width="10.5" height="10.5" fill="#55bbdd"/>
<rect x="220" y="300" width="10.5" height="10.5" fill="#2a62b8"/>
<rect x="230" y="300" width="10.5" height="10.5" fill="#88c8b4"/>
<rect x="240" y="300" width="40.5" height="10.5" fill="#aad298"/>
<rect x="280" y="300" width="10.5" height="10.5" fill="#d0dc55"/>
<rect x="290" y="300" width="10.5" height="10.5" fill="#f8e716"/>
<rect x="300" y="300" width="20.5" height="10.5" fill="#fbc518"/>
<rect x="320" y="300" width="30.5" height="10.5" fill="#f3901e"/>
<rect x="350" y="300" width="20.5" height="10.5" fill="#ee6b22"/>
<rect x="370" y="300" width="10.5" height="10.5" fill="#e5402a"/>
<rect x="380" y="300" width="50.5" height="10.5" fill="#ee6b22"/>
<rect x="430" y="300" width="50.5" height="10.5" fill="#f3901e"/>
<rect x="480" y="300" width="20.5" height="10.5" fill="#ee6b22"/>
<rect x="500" y="300" width="20.5" height="10.5" fill="#f3901e"/>
<rect x="40" y="310" width="20.5" height="10.5" fill="#aad298"/>
<rect x="60" y="310" width="80.5" height="10.5" fill="#88c8b4"/>
<rect x="140" y="310" width="20.5" height="10.5" fill="#55bbdd"/>
<rect x="160" y="310" width="10.5" height="10.5" fill="#3a90d6"/>
<rect x="170" y="310" width="10.5" height="10.5" fill="#55bbdd"/>
<rect x="180" y="310" width="10.5" height="10.5" fill="#88c8b4"/>
<rect x="190" y="310" width="10.5" height="10.5" fill="#d0dc55"/>
<rect x="200" y="310" width="10.5" height="10.5" fill="#aad298"/>
<rect x="210" y="310" width="20.5" height="10.5" fill="#88c8b4"/>
<rect x="230" y="310" width="40.5" height="10.5" fill="#aad298"/>
<rect x="270" y="310" width="20.5" height="10.5" fill="#d0dc55"/>
<rect x="290" y="310" width="10.5" height="10.5" fill="#f8e716"/>
<rect x="300" y="310" width="10.5" height="10.5" fill="#fbc518"/>
<rect x="310" y="310" width="30.5" height="10.5" fill="#f3901e"/>
<rect x="340" y="310" width="100.5" height="10.5" fill="#ee6b22"/>
<rect x="440" y="310" width="50.5" height="10.5" fill="#f3901e"/>
<rect x="490" y="310" width="20.5" height="10.5" fill="#ee6b22"/>
<rect x="510" y="310" width="10.5" height="10.5" fill="#f3901e"/>
<rect x="40" y="320" width="110.5" height="10.5" fill="#88c8b4"/>
<rect x="150" y="320" width="20.5" height="10.5" fill="#55bbdd"/>
<rect x="170" y="320" width="10.5" height="10.5" fill="#88c8b4"/>
<rect x="180" y="320" width="20.5" height="10.5" fill="#d0dc55"/>
<rect x="200" y="320" width="60.5" height="10.5" fill="#aad298"/>
<rect x="260" y="320" width="20.5" height="10.5" fill="#d0dc55"/>
<rect x="280" y="320" width="10.5" height="10.5" fill="#f8e716"/>
<rect x="290" y="320" width="10.5" height="10.5" fill="#f3901e"/>
<rect x="300" y="320" width="110.5" height="10.5" fill="#ee6b22"/>
<rect x="410" y="320" width="20.5" height="10.5" fill="#e5402a"/>
<rect x="430" y="320" width="10.5" height="10.5" fill="#ee6b22"/>
<rect x="440" y="320" width="60.5" height="10.5" fill="#f3901e"/>
<rect x="500" y="320" width="20.5" height="10.5" fill="#ee6b22"/>
<rect x="40" y="330" width="80.5" height="10.5" fill="#88c8b4"/>
<rect x="120" y="330" width="10.5" height="10.5" fill="#aad298"/>
<rect x="130" y="330" width="20.5" height="10.5" fill="#fbc518"/>
<rect x="150" y="330" width="10.5" height="10.5" fill="#d0dc55"/>
<rect x="160" y="330" width="10.5" height="10.5" fill="#aad298"/>
<rect x="170" y="330" width="100.5" height="10.5" fill="#d0dc55"/>
<rect x="270" y="330" width="20.5" height="10.5" fill="#f8e716"/>
<rect x="290" y="330" width="10.5" height="10.5" fill="#f3901e"/>
<rect x="300" y="330" width="110.5" height="10.5" fill="#ee6b22"/>
<rect x="410" y="330" width="20.5" height="10.5" fill="#e5402a"/>
<rect x="430" y="330" width="20.5" height="10.5" fill="#ee6b22"/>
<rect x="450" y="330" width="60.5" height="10.5" fill="#f3901e"/>
<rect x="510" y="330" width="10.5" height="10.5" fill="#ee6b22"/>
<rect x="40" y="340" width="70.5" height="10.5" fill="#88c8b4"/>
<rect x="110" y="340" width="20.5" height="10.5" fill="#aad298"/>
<rect x="130" y="340" width="10.5" height="10.5" fill="#f3901e"/>
<rect x="140" y="340" width="10.5" height="10.5" fill="#ee6b22"/>
<rect x="150" y="340" width="10.5" height="10.5" fill="#fbc518"/>
<rect x="160" y="340" width="10.5" height="10.5" fill="#d0dc55"/>
<rect x="170" y="340" width="110.5" height="10.5" fill="#f8e716"/>
<rect x="280" y="340" width="10.5" height="10.5" fill="#fbc518"/>
<rect x="290" y="340" width="10.5" height="10.5" fill="#f3901e"/>
<rect x="300" y="340" width="120.5" height="10.5" fill="#ee6b22"/>
<rect x="420" y="340" width="20.5" height="10.5" fill="#e5402a"/>
<rect x="440" y="340" width="20.5" height="10.5" fill="#ee6b22"/>
<rect x="460" y="340" width="60.5" height="10.5" fill="#f3901e"/>
<rect x="40" y="350" width="60.5" height="10.5" fill="#88c8b4"/>
<rect x="100" y="350" width="10.5" height="10.5" fill="#aad298"/>
<rect x="110" y="350" width="40.5" height="10.5" fill="#f3901e"/>
<rect x="150" y="350" width="10.5" height="10.5" fill="#fbc518"/>
<rect x="160" y="350" width="120.5" height="10.5" fill="#f8e716"/>
<rect x="280" y="350" width="10.5" height="10.5" fill="#f3901e"/>
<rect x="290" y="350" width="40.5" height="10.5" fill="#ee6b22"/>
<rect x="330" y="350" width="10.5" height="10.5" fill="#e5402a"/>
<rect x="340" y="350" width="90.5" height="10.5" fill="#ee6b22"/>
<rect x="430" y="350" width="20.5" height="10.5" fill="#e5402a"/>
<rect x="450" y="350" width="20.5" height="10.5" fill="#ee6b22"/>
<rect x="470" y="350" width="50.5" height="10.5" fill="#f3901e"/>
<rect x="40" y="360" width="50.5" height="10.5" fill="#88c8b4"/>
<rect x="90" y="360" width="60.5" height="10.5" fill="#f3901e"/>
<rect x="150" y="360" width="10.5" height="10.5" fill="#fbc518"/>
<rect x="160" y="360" width="120.5" height="10.5" fill="#f8e716"/>
<rect x="280" y="360" width="10.5" height="10.5" fill="#f3901e"/>
<rect x="290" y="360" width="40.5" height="10.5" fill="#ee6b22"/>
<rect x="330" y="360" width="20.5" height="10.5" fill="#e5402a"/>
<rect x="350" y="360" width="90.5" height="10.5" fill="#ee6b22"/>
<rect x="440" y="360" width="20.5" height="10.5" fill="#e5402a"/>
<rect x="460" y="360" width="20.5" height="10.5" fill="#ee6b22"/>
<rect x="480" y="360" width="40.5" height="10.5" fill="#f3901e"/>
<rect x="40" y="370" width="30.5" height="10.5" fill="#88c8b4"/>
<rect x="70" y="370" width="80.5" height="10.5" fill="#f3901e"/>
<rect x="150" y="370" width="10.5" height="10.5" fill="#fbc518"/>
<rect x="160" y="370" width="120.5" height="10.5" fill="#f8e716"/>
<rect x="280" y="370" width="10.5" height="10.5" fill="#fbc518"/>
<rect x="290" y="370" width="10.5" height="10.5" fill="#f3901e"/>
<rect x="300" y="370" width="30.5" height="10.5" fill="#ee6b22"/>
<rect x="330" y="370" width="20.5" height="10.5" fill="#e5402a"/>
<rect x="350" y="370" width="100.5" height="10.5" fill="#ee6b22"/>
<rect x="450" y="370" width="20.5" height="10.5" fill="#e5402a"/>
<rect x="470" y="370" width="20.5" height="10.5" fill="#ee6b22"/>
<rect x="490" y="370" width="30.5" height="10.5" fill="#f3901e"/>
<rect x="40" y="380" width="20.5" height="10.5" fill="#88c8b4"/>
<rect x="60" y="380" width="90.5" height="10.5" fill="#f3901e"/>
<rect x="150" y="380" width="130.5" height="10.5" fill="#f8e716"/>
<rect x="280" y="380" width="10.5" height="10.5" fill="#fbc518"/>
<rect x="290" y="380" width="10.5" height="10.5" fill="#f3901e"/>
<rect x="300" y="380" width="30.5" height="10.5" fill="#ee6b22"/>
<rect x="330" y="380" width="20.5" height="10.5" fill="#e5402a"/>
<rect x="350" y="380" width="110.5" height="10.5" fill="#ee6b22"/>
<rect x="460" y="380" width="20.5" height="10.5" fill="#e5402a"/>
<rect x="480" y="380" width="20.5" height="10.5" fill="#ee6b22"/>
<rect x="500" y="380" width="20.5" height="10.5" fill="#f3901e"/>
<rect x="40" y="390" width="110.5" height="10.5" fill="#f3901e"/>
<rect x="150" y="390" width="130.5" height="10.5" fill="#f8e716"/>
<rect x="280" y="390" width="10.5" height="10.5" fill="#fbc518"/>
<rect x="290" y="390" width="10.5" height="10.5" fill="#f3901e"/>
<rect x="300" y="390" width="40.5" height="10.5" fill="#ee6b22"/>
<rect x="340" y="390" width="10.5" height="10.5" fill="#e5402a"/>
<rect x="350" y="390" width="120.5" height="10.5" fill="#ee6b22"/>
<rect x="470" y="390" width="20.5" height="10.5" fill="#e5402a"/>
<rect x="490" y="390" width="20.5" height="10.5" fill="#ee6b22"/>
<rect x="510" y="390" width="10.5" height="10.5" fill="#f3901e"/>
</g>
<g filter="url(#bs)">
<circle cx="142" cy="302.2" r="5.5" fill="#f8e716" opacity="0.9"/>
<circle cx="142" cy="302.2" r="2.2" fill="#f5901c"/>
<circle cx="144.8" cy="344" r="5.5" fill="#e5402a"/>
<circle cx="223" cy="303" r="4.5" fill="#3a90d6" opacity="0.8"/>
<circle cx="223" cy="303" r="2.6" fill="#1b3f98"/>
<circle cx="264.5" cy="64" r="3.8" fill="#e5402a" opacity="0.8"/>
<circle cx="273" cy="95" r="4.2" fill="#e5402a" opacity="0.8"/>
<circle cx="84.7" cy="241.7" r="3" fill="#e4e03a"/>
<circle cx="118.7" cy="300" r="3" fill="#f0e428"/>
<circle cx="125.4" cy="304" r="2" fill="#2a62b8"/>
<circle cx="472" cy="281" r="5" fill="#e9552a" opacity="0.55"/>
<circle cx="111.2" cy="172" r="6.5" fill="#f8e716" opacity="0.9"/>
<circle cx="111.2" cy="171" r="2.3" fill="#f9b31a"/>
<circle cx="108.5" cy="146" r="3.5" fill="#f3801e"/>
<circle cx="87.5" cy="166" r="2.6" fill="#f3801e"/>
<circle cx="205.5" cy="128.5" r="3.5" fill="#1b3f98"/>
<circle cx="164.6" cy="298.5" r="4" fill="#1b3f98"/>
<circle cx="152.9" cy="273.5" r="2.4" fill="#1b3f98"/>
<circle cx="170.5" cy="274.7" r="2.4" fill="#1b3f98"/>
<circle cx="185.8" cy="252.3" r="2.4" fill="#1f489f"/>
<circle cx="195" cy="48" r="4" fill="#f5981c"/>
<circle cx="207.5" cy="60" r="2.6" fill="#f7a81c"/>

</g>
</g>
<g fill="none" stroke="#000" stroke-width="1.5" stroke-linejoin="round" stroke-linecap="round">
<polyline points="197.3,34.5 196.6,36.1 197.6,37.4 197.9,39.6 198.6,41.5 200.6,42.2 201.6,44.3 203.6,45.2 204.3,47.4 206.2,48.2 207.6,49.4 207.5,51.6 209.4,52.3 211.1,53.5 211.9,55.9 214.0,56.5 215.6,56.6 217.2,57.2 218.9,55.8 220.6,56.8 222.5,56.2 223.5,54.1 225.6,53.9 227.0,52.7 228.6,51.9 230.3,52.8 231.9,52.1 233.4,51.1 235.1,52.6 236.8,51.5 238.4,51.4 240.0,52.7 241.6,51.5 243.7,51.3 246.6,50.8 244.7,49.4 245.3,47.6 245.0,46.0"/>
<polyline points="245.0,46.0 245.2,48.0 246.0,49.9 245.7,52.5 247.6,52.5 249.1,53.3 250.4,54.5 252.0,55.0 253.0,56.5 253.8,58.1 255.0,59.5 255.9,61.0 256.1,63.0 257.4,64.9 256.3,66.8 256.4,68.6 256.6,70.5 254.4,71.5 254.7,73.4 254.4,75.4 252.1,75.8 251.6,78.0 250.2,79.0 249.1,81.0 250.5,83.0 249.9,85.0 250.1,86.9 250.5,88.8 250.4,90.7 251.6,92.7 250.3,94.4 250.5,96.2 251.0,98.2 249.4,99.4 249.4,101.2 248.9,102.8 248.0,104.2 247.6,105.9 247.1,107.5 246.3,109.0 245.7,110.5 246.2,112.3 245.7,113.8 244.5,115.3 245.9,117.0 244.6,118.7 244.5,120.3 245.8,122.0 244.7,123.6 245.0,125.3"/>
<polyline points="142.7,99.5 144.3,100.3 146.1,100.8 147.8,101.5 149.5,102.2 150.9,103.2 152.1,104.5 153.5,105.5 155.1,106.4 156.3,107.7 158.0,107.9 159.8,107.9 161.5,108.2 163.3,108.4 165.1,108.3 166.7,108.9 168.5,109.0 170.0,108.1 171.8,108.9 173.4,108.4 174.9,107.2 177.1,108.3 177.9,106.6 179.0,105.1 181.2,105.3 181.7,103.3 183.1,101.8 185.6,101.5 187.0,99.3 187.3,101.3 188.0,103.1 188.7,104.9 189.1,106.8 190.7,108.3 190.5,110.5 191.6,111.9 193.2,112.4 194.2,114.2 195.9,114.6 197.5,115.1 198.6,116.5 200.3,117.0 201.7,118.2 202.8,119.5 204.5,120.4 205.7,121.7 206.8,123.1 207.8,124.5 208.2,126.1 208.5,127.7 209.0,129.3 209.6,130.0 211.5,130.5 213.2,129.9 214.5,128.3 216.6,129.1 217.9,128.2 219.8,127.8 220.9,129.9 222.9,129.3 224.6,129.7 225.7,131.6 228.2,130.8 229.8,131.7 231.8,131.9 232.4,129.7 234.3,129.7 236.0,129.4 236.8,127.3 238.7,127.7 240.3,127.2 241.6,125.8 243.5,126.2 245.0,125.3 246.6,126.4 247.1,128.3 248.8,129.3 250.0,130.7"/>
<polyline points="250.0,130.7 252.0,128.3 253.7,129.0 255.1,130.2 256.6,130.8 258.3,130.4 260.2,130.1 260.7,128.2 262.2,126.9 263.4,125.9 264.6,124.8 265.7,123.7 267.3,123.1 268.6,122.1 269.3,120.4 270.5,120.5 272.9,121.5 274.9,123.4 274.6,121.7 275.1,120.1 275.8,118.6 276.7,117.2 276.4,115.0 278.5,114.5 279.9,112.6 282.1,112.4 283.7,112.1 285.1,110.8 286.8,111.3 288.4,111.0 290.0,110.5 291.2,111.8 292.3,113.2 293.8,114.3 295.0,116.0 296.7,114.4 299.0,113.6 299.6,115.5 301.9,115.3 302.8,116.9 304.5,117.4 306.1,116.1 307.7,116.9 309.3,118.1 311.6,118.0 312.7,120.4 314.4,120.4 316.2,119.7 317.1,121.3 318.9,121.9 320.0,123.1 320.6,124.7 321.6,126.0 322.8,127.1 323.7,128.4"/>
<polyline points="329.8,155.5 331.2,156.4 332.9,156.4 334.5,156.8 335.4,158.7 337.6,157.5 338.7,159.0 339.2,161.2 341.2,163.1 339.9,164.3 338.8,165.6 339.2,167.7 337.4,169.2 338.9,170.2 340.9,170.7 341.1,173.0 342.9,173.7 344.6,174.5 344.6,176.9 346.8,177.3 347.6,178.5 349.7,178.8 350.7,176.9 352.5,176.5"/>
<polyline points="250.0,130.7 249.9,132.3 249.6,133.9 248.7,135.5 250.1,137.3 248.7,138.9 248.7,140.5 250.5,141.9 249.4,143.8 249.9,145.4 251.1,146.8 250.3,149.0 251.5,150.6 252.5,152.2 251.5,154.4 253.2,155.9 253.8,157.7 252.8,159.6 254.5,160.8 254.4,162.5 254.4,164.1 255.5,165.5 255.8,167.1 256.0,168.7 255.8,170.4 257.1,171.8 256.5,173.6 256.6,175.3 258.1,176.9 256.3,178.3 256.6,180.1 257.2,181.8 255.7,183.3 256.3,185.0 256.0,186.6 255.7,188.2 255.4,189.8 255.8,191.4 255.5,193.1 254.2,194.5 254.3,196.5 253.1,198.0 252.1,199.6 251.5,201.5 249.6,201.9 248.1,202.9 246.4,203.6 244.7,204.3 243.3,205.6 241.5,205.7 239.9,206.4 238.4,207.2 236.6,207.3 234.9,207.8 233.5,208.8 231.8,209.1 230.1,209.3 228.7,210.6 227.0,210.9 225.1,210.5 223.6,211.9 221.7,211.5 220.2,211.7 218.3,211.4 217.7,209.4 216.1,208.7 214.2,208.4 212.9,206.3 212.6,208.2 212.0,209.8 209.7,210.2 209.5,212.4 207.7,213.1 205.6,212.7 204.4,214.6 202.7,214.9 201.3,216.2 202.1,218.3 200.7,219.7 200.0,221.3 199.8,223.0"/>
<polyline points="140.4,254.7 142.0,254.3 143.7,254.6 145.2,253.6 146.8,253.4 148.6,254.2 150.0,252.4 151.7,252.7 153.5,253.2 154.8,251.4 156.6,252.3 158.2,252.7 159.9,252.2 161.5,252.9 163.1,253.2 164.7,253.3 165.5,251.6 166.2,249.9 166.6,248.1 167.8,246.6 168.0,244.9 168.3,243.2 169.2,241.7 169.9,240.1 170.0,238.4 170.0,236.8 170.2,235.1 168.7,233.7 169.3,231.9 169.5,230.2 167.6,228.8 168.8,226.9 168.3,225.3 166.9,223.8 168.1,221.9 167.1,220.4 166.5,218.9 166.8,217.2 166.4,215.6 165.9,213.9 166.7,212.3 167.8,210.8 168.4,209.0 169.7,207.6 170.4,205.5 171.8,206.8 173.3,208.0 175.5,207.8 176.5,209.7 177.8,211.1 180.2,211.4 180.3,214.0 182.1,214.9 183.9,215.7 183.9,217.9 185.7,218.7 187.1,219.8 186.7,221.2 186.2,224.0 188.1,224.6 189.6,223.2 191.3,223.3 193.0,223.4 194.7,222.6 196.4,222.9 198.1,223.1 199.8,223.0"/>
<polyline points="199.8,223.0 200.8,224.4 202.3,225.4 202.4,227.4 204.0,228.3 205.4,229.2 205.5,231.3 207.7,231.4 208.5,232.8 209.2,234.4 210.6,234.9 212.8,234.7 214.6,234.3 217.0,233.9 218.7,235.3 220.3,236.4 221.3,238.1 222.9,239.3 224.6,239.5 226.0,240.7 227.8,240.8 229.5,241.1 231.0,242.2 232.7,242.1 234.4,241.9 236.1,242.0 237.5,242.1 238.9,243.7 239.3,245.8 241.0,247.0 241.4,248.9 242.5,250.2 243.8,251.4"/>
<polyline points="213.0,235.0 211.6,236.1 211.5,238.4 209.4,238.9 208.2,240.3 208.3,242.6 205.8,242.8 205.2,244.7 205.0,246.6 202.7,247.0 202.3,248.8 201.6,250.5 199.7,251.1 199.3,253.0 198.3,254.3 196.5,255.4 197.0,257.2 196.7,258.8 196.1,260.4 195.8,262.0 196.2,263.6 195.9,265.3 195.8,267.0 197.3,268.4 196.2,270.3 196.8,271.8 197.7,273.6 195.8,275.0 196.3,276.7 196.5,278.4 195.5,279.9 195.2,281.7 194.3,283.3 192.8,284.5 192.9,286.6 191.7,288.0 190.1,289.5 190.6,292.0 188.9,293.5 187.9,294.8 188.4,296.9 186.6,297.6 184.9,298.7 183.5,300.5 181.3,300.6 179.8,301.7 178.0,302.2 176.3,302.9 174.5,303.8 172.8,302.1 170.9,302.8 169.2,303.3 167.2,303.5 166.9,306.0 164.9,306.0 163.0,306.6 161.8,308.8 159.5,309.0 159.0,310.5 160.0,312.3 158.1,313.7 158.7,315.4 158.9,317.0 157.4,318.7 158.6,320.4 158.6,322.1 157.7,323.9 158.8,325.6 158.4,327.3 157.8,329.0 158.5,330.6 159.0,332.3 159.1,334.0 159.9,335.6 160.6,337.1 160.9,338.8 160.2,340.3 160.4,342.2 158.9,343.4 158.7,345.1 158.8,347.0 156.7,348.4 157.7,350.2 158.2,352.1 157.6,354.0 158.3,355.9 158.3,357.8"/>
<polyline points="243.8,251.4 244.7,250.0 245.6,248.6 246.9,247.5 247.9,246.2 248.5,244.4 250.2,243.9 251.7,243.4 252.3,241.2 254.3,241.4 255.7,240.4 256.5,238.4 258.8,239.2 260.1,237.7 261.6,236.4 264.4,237.1 264.5,234.9 265.5,233.5 267.6,233.0 267.6,230.7 269.0,229.5 271.0,229.1 271.2,226.6 273.3,226.3 275.0,225.6 275.2,223.1 277.4,223.1 278.7,222.0 279.5,219.8 281.9,220.1 283.1,218.7 284.2,217.0 286.6,217.3 287.7,215.7 289.1,214.4 291.1,214.7 291.8,212.7 293.3,212.1 295.1,211.9 295.9,210.1 297.4,209.6 298.9,209.0 300.3,208.2 301.8,207.3 303.6,207.1 305.2,206.6 306.6,205.2 308.4,205.4 310.0,204.8 311.5,203.7 313.4,204.6 314.9,203.4 316.5,202.8 318.4,204.0 319.8,202.1 321.5,202.1 323.4,202.8 324.7,201.1 326.5,201.4 328.3,201.6 329.7,200.1 331.5,200.4 333.2,200.2 334.8,199.5 336.5,199.5 338.2,199.2 339.8,198.6 341.4,198.0 343.2,198.4 344.8,197.7 346.3,196.9 348.2,197.7 349.6,196.3 351.2,195.8 353.1,196.8 354.3,194.8 356.1,195.1 357.9,195.2 359.1,193.6 360.9,193.8 362.5,193.4 364.0,192.7 365.6,192.3"/>
<polyline points="349.7,196.7 351.3,197.8 353.5,197.4 354.8,199.3 356.5,199.9 358.4,201.1 359.3,203.1 361.2,204.3 360.9,206.4 362.3,207.5 363.1,209.0 363.5,210.6 364.2,212.4 364.7,214.1 364.3,216.1 365.8,217.7 365.6,219.7 366.9,221.1 369.4,221.0 370.2,223.1 371.8,224.4 373.9,224.0 375.0,225.9 376.7,226.3 378.7,226.2 379.3,227.9 381.1,228.7 382.4,229.9 382.1,232.0 383.8,232.8 384.6,234.3 385.2,235.9 386.6,237.0 387.7,238.3 388.5,239.9 389.9,241.0 390.9,242.4 392.1,243.6 393.6,244.6 395.1,245.5 396.1,247.1 397.5,247.9 397.4,249.6 396.3,251.1 396.1,252.8 395.9,254.5 394.3,256.5 396.2,257.2 397.3,258.5 397.5,260.6 399.6,261.1 400.5,262.7 400.6,264.7 402.7,265.6 403.0,267.6 403.6,269.3 405.4,270.4 405.7,272.4 407.4,273.2 409.1,273.9 410.4,275.3 412.1,275.9 413.7,276.8 415.2,277.8 416.8,278.9 417.7,280.7 419.6,281.4 420.7,283.0 419.4,284.4 420.3,286.5 419.0,288.0 418.0,289.5 418.7,291.4 417.4,292.9 417.2,294.6 417.4,296.4 416.6,298.1 417.0,299.7 418.0,301.3 418.1,303.0 418.6,304.7 419.6,306.1 420.3,307.7 420.4,309.5 421.7,310.8 422.2,312.5 422.7,314.3 424.2,315.6 424.5,317.5 425.4,319.1 426.3,320.7 426.7,322.5 427.5,324.2 427.4,326.2 427.9,327.9 428.9,329.6 429.0,331.5"/>
<polyline points="243.8,251.4 243.3,253.1 244.3,254.9 243.1,256.5 242.6,258.1 243.8,260.0 242.0,261.4 242.2,263.1 242.9,264.9 241.7,265.9 240.2,267.2 238.6,268.2 236.4,267.5 235.2,269.2 233.9,270.4 231.8,270.6 231.4,272.8 229.6,273.4 227.8,274.2 228.1,276.7 226.1,277.8 224.8,279.4 224.8,281.5 223.2,282.8 222.6,284.5 222.6,286.5 221.1,287.8 220.8,290.0 219.1,291.4 218.7,293.6 218.2,295.2 216.6,296.2 216.5,297.9 215.8,299.4 214.9,300.8 214.1,302.3 213.7,304.0 212.6,305.5 211.7,307.0 211.5,308.8 210.2,310.1 209.2,311.6 209.2,313.5 207.6,314.6 207.2,316.3 206.8,318.1 205.0,319.1 204.8,321.0 204.5,322.6 203.5,324.8 203.2,326.9 202.8,329.2 205.2,330.9 203.9,332.3 202.8,333.7 203.8,335.7 202.3,336.9 202.0,338.6 201.7,340.5 199.7,339.9 197.9,340.7 196.1,341.7 194.0,340.3 192.2,341.5 190.5,342.5 188.4,341.6 186.9,343.2 185.1,343.7 183.0,343.1 181.6,344.6 179.9,345.0 178.1,345.2 176.9,346.7 175.0,346.7 173.3,347.2 172.8,348.4 171.2,349.9 171.4,351.5 172.4,353.2 170.6,354.6 171.4,356.3 171.3,357.9 171.0,359.5"/>
<polyline points="224.2,282.6 226.0,282.9 227.8,282.7 229.6,282.7 231.4,283.4 233.2,282.8 235.0,283.1 236.5,284.0 238.2,283.8 239.8,284.2 241.4,284.6 242.9,285.4 244.2,284.9 246.1,284.1 247.5,282.8 248.7,281.3 249.6,279.7 250.0,277.8 251.3,276.4 251.9,274.6 252.3,272.7 254.1,271.9 254.7,270.3 255.6,268.9 256.8,267.8 258.5,267.1 260.2,266.3 262.0,265.9 263.8,264.6 265.1,266.0 266.7,266.8 268.7,266.9 270.0,268.4 271.6,269.2 273.7,269.1 274.9,271.0 276.9,270.9 278.4,271.3 280.4,272.5 282.1,271.0 283.9,270.8 285.8,271.8 287.4,270.0 289.4,270.2 290.5,272.1 293.0,271.9 294.3,273.5 295.9,274.6 296.9,276.3 297.9,278.0 299.8,279.2 299.9,282.0 301.8,282.2 303.8,282.2 304.7,284.5 306.8,284.2 308.8,285.3 307.7,287.3 309.0,289.1 308.8,291.0 309.7,292.9 310.4,294.9 310.8,297.2 313.2,297.2 313.5,299.5 315.1,300.4 317.2,300.6 317.6,302.9 319.2,303.7 320.9,304.6 321.0,306.8 323.0,307.5 324.4,308.6 324.5,310.9 326.8,311.2 327.6,312.9 328.3,314.8 330.7,314.9 331.6,316.7 332.4,318.6 334.9,318.5 335.5,320.7 336.9,321.8 339.0,321.4 339.9,323.4 341.6,323.8 343.7,323.6 344.4,326.0 346.4,325.7 348.2,325.9 349.6,327.8 351.7,327.0 353.5,327.5 355.0,329.0 357.7,328.5 357.8,330.3 357.7,332.3 359.9,333.2 359.6,335.2 360.1,336.9 362.0,338.0 361.2,340.1 362.3,341.5 363.7,342.8 362.7,345.0 364.2,346.3 364.9,347.8 365.3,349.5"/>
<polyline points="92.5,157.8 92.9,159.7 91.7,161.4 91.4,163.2 92.2,165.1 91.1,166.8 91.2,168.7 91.9,170.4 91.3,172.3 91.9,174.1 92.3,175.9 92.0,177.7 92.5,179.5 92.6,181.3 93.0,183.1 93.3,184.9 93.2,186.8 94.2,188.5 93.7,190.3 93.0,191.8 92.9,193.6 92.0,195.0 92.8,196.7 94.1,198.2 94.2,200.3 95.9,201.8 95.9,203.5 94.8,204.9 95.0,206.6 94.9,208.2 94.7,209.8 93.7,211.8 95.8,212.4 96.8,214.1 98.3,215.3 99.7,216.9 101.5,216.8 103.2,215.8 105.1,216.4 106.9,215.8 108.6,214.9 110.6,216.0 112.1,215.1 113.7,214.4 115.5,214.8 117.1,214.3 118.5,213.9 119.8,212.3 120.0,210.1 121.3,208.5 123.1,208.0 123.7,206.0 125.6,205.7 126.6,204.9 129.8,205.7 130.1,207.5 131.2,209.0 131.9,210.7 132.7,212.4 133.8,214.0 133.6,215.6 133.2,217.2 133.9,218.8 134.1,220.4 132.8,222.6 135.1,223.0 136.0,224.7 136.3,226.7 138.7,227.0 139.2,229.0 139.8,230.6 141.9,231.5 142.0,233.6 142.8,235.2 144.6,236.3 144.6,238.4 145.8,239.8 147.2,240.8 146.9,242.9 148.6,244.1 147.0,245.1 144.8,244.3 143.6,246.3 141.9,246.5 140.6,248.0 142.0,249.9 140.9,251.4 140.3,253.0 140.4,254.7"/>
<polyline points="140.4,254.7 138.6,255.6 136.7,256.2 135.7,258.4 133.6,258.6 132.0,259.9 130.1,260.6 128.5,261.8 127.2,262.1 127.7,264.3 129.6,264.5 131.1,265.2 132.5,266.9 134.7,267.0 136.5,268.4 134.6,269.1 134.8,271.3 133.2,272.3 131.5,273.3 132.2,275.9 130.3,277.2 129.1,279.3 131.2,279.9 131.2,282.0 132.4,283.3 134.4,284.1 134.1,286.5 135.6,288.1 136.0,289.9 136.1,292.1 135.5,294.4 133.3,294.1 132.3,296.2 130.4,296.6 128.4,296.6 127.5,298.4 125.9,299.3 124.6,300.5 124.8,302.8 122.7,303.2 121.5,304.5 120.9,306.5 118.6,306.3 117.6,307.9 117.0,309.0 115.5,310.8 116.8,312.6 116.8,314.4 115.3,316.2 116.9,318.0 116.3,319.8 115.9,321.5 117.6,323.0 117.0,324.7 117.1,326.4 117.6,328.0"/>
<polygon points="248.8,390.2 247.1,389.7 245.6,388.9 243.9,388.5 242.3,388.0 240.7,387.2 239.1,386.9 237.4,386.9 235.7,386.5 234.2,385.7 232.4,386.2 230.8,385.5 229.2,384.8 227.4,385.6 225.7,384.5 223.9,384.2 222.0,384.7 220.3,383.6 218.4,383.8 216.6,384.0 214.8,383.2 213.0,383.7 211.2,383.8 209.4,383.3 207.6,383.8 205.8,383.6 204.6,382.3 202.9,381.6 201.8,380.1 200.5,378.9 198.8,378.2 197.7,376.7 196.1,375.8 194.5,375.0 193.0,373.8 191.4,372.9 189.9,371.9 188.4,370.9 186.7,370.2 185.4,369.2 184.2,368.1 182.6,367.6 181.2,366.8 180.3,365.3 178.4,365.3 177.2,364.1 176.1,362.8 174.1,362.8 172.7,361.4 171.1,360.6 169.2,360.5 167.9,358.8 166.2,358.9 164.6,359.1 163.1,358.3 161.5,358.2 159.9,358.2 158.3,358.0 156.7,357.4 155.1,358.0 153.5,358.0 151.9,357.1 150.3,358.0 148.7,357.6 147.1,357.2 145.5,357.7 143.9,357.4 142.3,357.3 140.8,357.2 139.4,355.9 138.6,354.2 137.4,352.7 136.5,351.2 135.3,349.7 134.7,348.1 134.2,346.4 133.6,344.8 132.9,343.2 132.5,341.5 132.9,339.8 133.0,338.1 133.6,336.5 134.1,334.6 132.4,333.5 131.3,332.0 129.7,331.0 128.0,330.1 126.2,329.7 124.3,329.7 122.8,328.6 121.0,328.7 119.2,328.6 117.9,327.8 116.5,326.7 115.6,325.3 114.7,323.8 113.7,322.5 112.6,321.2 111.7,319.8 111.0,318.3 109.6,317.3 109.0,315.7 108.5,314.3 107.2,312.7 107.8,310.9 107.6,309.1 106.4,307.5 107.3,305.6 106.6,303.9 105.9,302.2 106.8,300.3 105.8,298.6 105.6,297.1 104.8,295.2 103.0,294.7 101.6,293.5 100.9,291.7 98.8,291.3 97.9,289.7 96.6,288.4 94.7,287.7 93.5,286.1 92.1,284.9 90.5,283.7 89.1,282.4 87.3,281.4 86.3,279.7 84.7,278.6 83.2,277.5 82.7,275.5 80.8,274.7 79.6,273.4 79.0,271.5 77.0,270.8 76.3,269.1 75.8,267.2 73.9,265.7 73.0,263.6 71.1,263.1 69.8,261.6 68.3,260.8 66.6,260.4 65.4,259.0 63.1,258.4 60.9,257.5 58.7,257.1 56.4,256.9 54.9,255.0 52.6,254.4 51.0,253.3 49.2,252.6 47.6,251.6 47.1,250.0 46.2,248.5 46.9,247.0 47.7,245.6 48.3,244.1 49.4,242.4 50.9,240.9 50.5,238.7 51.2,236.7 51.6,234.8 52.7,233.1 54.8,233.4 56.9,232.9 58.9,233.1 60.8,232.8 62.3,233.8 63.8,234.5 65.7,234.4 67.3,235.3 68.7,234.4 70.1,233.4 71.6,232.7 73.4,232.2 75.0,231.4 76.8,230.9 78.6,229.8 80.1,228.9 81.1,227.2 80.2,225.4 80.4,223.7 81.1,221.9 80.2,220.2 80.7,218.4 81.2,216.7 80.1,214.9 80.7,213.1 80.7,211.2 79.7,209.5 80.6,207.6 80.2,205.8 79.5,203.9 80.7,202.2 80.2,200.3 80.1,198.4 81.4,196.8 81.1,194.8 81.5,192.9 82.7,191.6 82.5,189.8 83.4,188.3 84.6,187.0 84.1,185.1 85.4,183.8 86.1,182.2 85.7,180.5 86.6,179.0 86.7,177.3 86.6,175.6 87.2,174.0 86.6,172.2 86.1,170.5 86.0,168.8 86.6,166.9 87.6,165.2 89.3,163.9 89.5,161.7 90.7,160.5 92.2,159.5 92.5,157.5 93.8,156.6 95.0,158.0 97.0,158.6 97.7,160.5 99.2,161.6 100.3,162.4 102.3,161.3 103.4,159.4 105.2,158.0 105.4,155.9 106.2,154.0 107.9,152.2 106.5,150.8 106.1,149.0 105.8,147.2 104.5,145.4 105.9,144.3 107.2,143.2 107.4,141.2 109.1,140.2 109.1,138.6 108.3,136.9 109.3,135.3 108.8,133.6 108.5,131.8 110.0,130.8 110.9,129.3 111.7,127.8 113.0,126.7 114.1,125.6 115.1,124.2 116.2,123.1 117.8,122.4 118.2,120.5 119.7,119.8 121.0,118.5 120.9,116.5 122.5,115.4 123.2,113.8 123.4,111.9 125.1,110.8 125.7,109.2 126.0,107.3 127.9,106.3 128.3,104.4 129.1,102.7 130.6,101.9 132.2,100.8 133.9,100.6 135.8,101.2 137.4,99.8 139.2,100.0 141.0,100.2 142.2,99.4 143.1,97.7 143.5,95.9 142.9,93.8 144.3,92.3 144.9,90.5 145.2,88.5 146.2,86.9 146.6,85.0 147.2,83.4 147.8,81.9 148.1,80.3 148.4,78.7 149.5,77.3 149.1,75.5 149.9,74.0 151.1,72.6 150.5,70.7 151.6,69.1 152.1,67.4 151.6,65.4 153.0,64.0 153.3,62.2 153.0,60.3 154.4,58.8 154.5,57.1 154.7,55.5 156.1,54.2 156.0,52.5 156.7,50.9 158.3,50.5 159.9,50.1 161.4,49.3 163.0,49.0 164.6,49.9 166.4,49.8 168.0,50.5 170.1,51.1 171.2,49.7 172.8,48.9 174.0,47.8 175.6,47.1 177.1,47.1 178.9,48.1 180.4,49.4 181.6,50.7 182.9,51.9 183.7,53.5 185.7,54.8 187.0,56.8 188.3,55.6 188.1,53.7 189.3,52.5 190.1,51.1 190.1,49.3 191.4,48.1 192.0,46.7 192.5,45.1 193.1,43.6 194.2,42.3 194.7,40.8 194.9,39.1 196.5,38.1 196.5,36.3 197.0,34.8 198.5,33.7 198.8,31.9 200.2,33.3 200.9,35.1 203.0,35.8 204.0,37.5 205.4,39.0 207.5,39.3 209.0,40.7 210.3,42.2 211.6,43.6 213.0,45.0 214.9,44.6 216.8,45.4 218.6,45.0 220.4,44.7 222.4,44.8 223.7,43.4 225.4,42.7 227.4,42.8 228.7,41.3 230.4,40.9 232.4,40.8 234.4,39.4 235.1,41.2 236.3,42.6 238.2,43.3 239.0,45.2 241.0,45.5 243.0,45.5 245.0,46.0 246.6,44.8 248.6,44.4 250.0,42.8 252.1,43.1 253.9,44.3 256.0,44.1 258.0,44.8 260.0,44.9 262.0,45.6 264.0,45.7 266.0,44.6 267.9,45.2 270.0,45.7 272.0,46.4 274.0,47.0 281.7,51.0 289.7,57.0 297.6,64.8 305.6,74.7 313.5,81.7 318.7,85.0 324.7,93.0 331.7,99.0 338.6,107.9 333.7,116.8 327.7,124.8 323.7,128.4 321.3,131.7 319.7,138.7 320.0,146.7 322.7,153.6 329.8,155.5 339.8,153.0 347.7,150.0 350.7,153.0 357.0,154.3 353.7,160.0 349.7,165.9 351.3,172.8 353.7,178.8 359.7,185.8 365.6,192.0 369.6,198.7 375.6,204.7 383.5,211.6 391.5,216.0 407.0,220.8 434.0,230.3 461.4,239.8 484.4,247.9 514.3,247.3 502.0,260.0 488.5,275.0 475.0,288.6 465.6,299.0 449.3,313.9 430.4,331.5 419.5,342.4 416.8,344.3 403.2,343.2 388.3,343.2 378.8,345.1 370.7,347.8 363.9,351.0 358.5,355.9 355.8,361.4 349.0,364.0 340.8,365.4 335.6,368.7 322.0,372.7 313.9,374.0 301.7,374.0 294.9,370.0 288.1,363.2 281.4,366.0 270.5,371.4 261.0,376.8 255.6,383.6" stroke-width="1.5"/>
</g>
<g font-size="5.8" fill="#1e2a33">
<text x="220" y="52.2" text-anchor="middle">Mereb</text>
<text x="197.5" y="85" text-anchor="middle">Tekeze</text>
<text x="174" y="172" text-anchor="middle">Abbay</text>
<text x="287.5" y="92.5" text-anchor="middle">Denakle</text>
<text x="301" y="181" text-anchor="middle">Awash</text>
<text x="358.5" y="168.3" text-anchor="middle">Aysha</text>
<text x="93.3" y="251" text-anchor="middle">Baro-Akobo</text>
<text x="165" y="284.3" text-anchor="middle">Omo-Gibe</text>
<text x="184.3" y="312.6" text-anchor="middle">Rift Valley</text>
<text x="274" y="330" text-anchor="middle">Genale-Dawa</text>
<text x="320" y="264" text-anchor="middle">Wabi Shebele</text>
<text x="449.5" y="263.5" text-anchor="middle">Aysha</text>
</g>
<g stroke="#222" stroke-width="0.6" fill="none"><path d="M135.5 29H141.5M138.5 26V32"/><path d="M135.5 185H141.5M138.5 182V188"/><path d="M135.5 341.3H141.5M138.5 338.3V344.3"/><path d="M417.5 29H423.5M420.5 26V32"/><path d="M417.5 185H423.5M420.5 182V188"/><path d="M417.5 341.3H423.5M420.5 338.3V344.3"/></g>
<rect x="24" y="11.3" width="506" height="382.7" fill="none" stroke="#000" stroke-width="1.3"/>
<g stroke="#000" stroke-width="1" fill="none"><path d="M138.5 7.5V11.5M138.5 394V398"/><path d="M420.5 7.5V11.5M420.5 394V398"/><path d="M20 28.7H24M530 28.7H534"/><path d="M20 185H24M530 185H534"/><path d="M20 341.3H24M530 341.3H534"/></g>
<g font-size="4.7" fill="#222">
<text x="138.5" y="6" text-anchor="middle">36°0'0"E</text>
<text x="420.5" y="6" text-anchor="middle">45°0'0"E</text>
<text x="138.5" y="403.2" text-anchor="middle">36°0'0"E</text>
<text x="420.5" y="403.2" text-anchor="middle">45°0'0"E</text>
<text x="19.5" y="30.2" text-anchor="end">15°0'0"N</text>
<text x="19.5" y="186.5" text-anchor="end">10°0'0"N</text>
<text x="19.5" y="342.8" text-anchor="end">5°0'0"N</text>
<text x="535" y="30.2">15°0'0"N</text>
<text x="535" y="186.5">10°0'0"N</text>
<text x="535" y="342.8">5°0'0"N</text>
</g>
<!-- north arrow -->
<text x="34" y="20.8" font-size="9" text-anchor="middle" fill="#000">N</text>
<path d="M34 24 L27.2 46.3 L34.4 39.2 Z" fill="#000"/>
<path d="M34 24 L34.4 39.2 L41 46.3 Z" fill="#fff" stroke="#000" stroke-width="0.9" stroke-linejoin="miter"/>
<!-- legend -->
<text x="378" y="49" font-size="13.5" font-weight="bold" fill="#000">Legend</text>
<rect x="376.4" y="57.9" width="27.4" height="13.5" fill="#fff" stroke="#000" stroke-width="1.5"/>
<text x="408.7" y="68.3" font-size="9.7" fill="#000">Basin Boundary</text>
<text x="375.2" y="84.2" font-size="11.75" font-weight="bold" fill="#000">Mean Annual Rainfall (mm)</text>
<rect x="376.8" y="91.7" width="27" height="49.5" fill="url(#ramp)"/>
<text x="409.2" y="101.8" font-size="9.8" fill="#000">High : 2275.7</text>
<text x="409.2" y="121" font-size="9.8" fill="#000">Medium : 1200</text>
<text x="409.2" y="139.6" font-size="9.8" fill="#000">Low : 141.355</text>
<!-- scale bar -->
<rect x="336.5" y="384.5" width="169" height="5.6" fill="#000"/>
<rect x="379" y="385.2" width="41.7" height="4.2" fill="#fff"/>
<g font-size="7" fill="#111" text-anchor="middle">
<text x="336.5" y="381">300</text><text x="379.5" y="381">150</text><text x="421" y="381">0</text><text x="512" y="381">300 Km</text>
</g>
</svg>
</body></html>
